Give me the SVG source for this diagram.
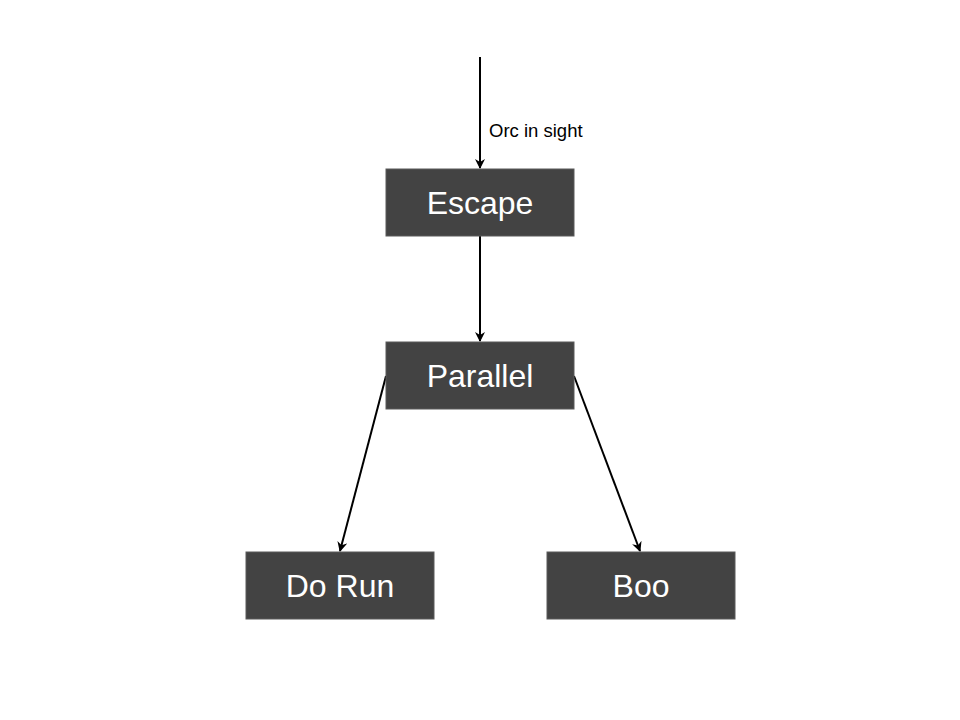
<svg xmlns="http://www.w3.org/2000/svg" width="960" height="720" viewBox="0 0 960 720">
<style>
.node rect{fill:#434343;stroke:#5a5a5a;stroke-width:1}
.node text{fill:#ffffff;font-family:"Liberation Sans",Arial,sans-serif;font-size:32px;text-anchor:middle}
.edge{stroke:#000;stroke-width:2;fill:none;marker-end:url(#arr)}
.lbl{font-family:"Liberation Sans",Arial,sans-serif;font-size:18.5px;fill:#000}
</style>
<defs>
<marker id="arr" viewBox="0 0 10 10" refX="9" refY="5" markerWidth="5" markerHeight="5" orient="auto" markerUnits="strokeWidth">
<path d="M0,0 L10,5 L0,10 L3,5 Z" fill="#000"/>
</marker>
</defs>
<rect width="960" height="720" fill="#fff"/>
<g id="connectors">
<line class="edge" x1="480" y1="57" x2="480" y2="168"/>
<text class="lbl" x="489" y="137">Orc in sight</text>
<line class="edge" x1="480" y1="236" x2="480" y2="341"/>
<line class="edge" x1="386" y1="376" x2="340" y2="551"/>
<line class="edge" x1="574" y1="376" x2="640" y2="551"/>
</g>
<g id="escape" class="node"><rect x="386" y="169" width="188" height="67"/><text x="480" y="214">Escape</text></g>
<g id="parallel" class="node"><rect x="386" y="342" width="188" height="67"/><text x="480" y="387">Parallel</text></g>
<g id="dorun" class="node"><rect x="246" y="552" width="188" height="67"/><text x="340" y="597">Do Run</text></g>
<g id="boo" class="node"><rect x="547" y="552" width="188" height="67"/><text x="641" y="597">Boo</text></g>
</svg>
